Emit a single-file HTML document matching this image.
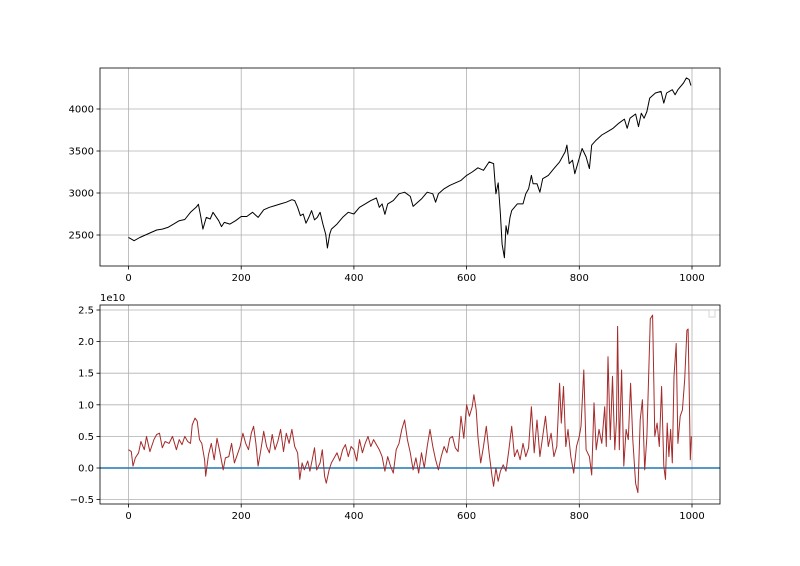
<!DOCTYPE html>
<html><head><meta charset="utf-8"><style>
html,body{margin:0;padding:0;background:#fff;}
svg{display:block;font-family:"DejaVu Sans","Liberation Sans",sans-serif;}
</style></head><body>
<svg id="chart" width="800" height="566" viewBox="0 0 800 566" xmlns="http://www.w3.org/2000/svg">
<rect width="800" height="566" fill="#fff"/>
<g id="top"></g>
<g id="bot"></g>
</svg>
<script>
const xTicks = [0, 200, 400, 600, 800, 1000];
const topYTicks = [2500, 3000, 3500, 4000];
const botYTicks = [-0.5, 0.0, 0.5, 1.0, 1.5, 2.0, 2.5];
const botYLabels = ["−0.5", "0.0", "0.5", "1.0", "1.5", "2.0", "2.5"];
const priceIdx = [0,10,20,30,40,50,60,70,80,90,100,110,120,124,128,132,138,145,150,160,165,170,180,190,200,210,220,230,240,250,260,270,280,290,295,300,305,310,315,320,325,330,335,340,345,350,353,357,360,370,380,390,400,410,420,430,440,445,450,455,460,470,480,490,500,505,510,520,530,540,545,550,560,570,580,590,600,610,620,630,640,648,652,656,660,663,667,670,673,677,680,690,700,705,710,715,718,725,730,735,745,755,765,775,778,782,788,792,798,805,812,818,822,830,840,850,860,870,880,885,890,900,905,910,915,920,925,935,945,950,955,965,970,975,985,990,995,998];
const priceVal = [2472,2432,2470,2500,2530,2560,2570,2590,2630,2670,2685,2770,2830,2865,2730,2570,2710,2690,2770,2670,2600,2650,2630,2670,2720,2720,2770,2710,2800,2830,2850,2870,2890,2920,2910,2830,2730,2750,2640,2710,2790,2680,2710,2770,2630,2510,2345,2510,2570,2630,2710,2770,2750,2830,2870,2910,2940,2830,2870,2745,2870,2910,2990,3010,2960,2840,2870,2930,3010,2990,2890,2990,3050,3090,3120,3150,3210,3250,3300,3270,3370,3350,2990,3120,2750,2390,2230,2610,2510,2710,2790,2870,2870,2990,3050,3210,3110,3110,3010,3170,3210,3290,3370,3490,3570,3350,3390,3230,3370,3530,3430,3290,3570,3630,3690,3730,3770,3830,3880,3770,3890,3940,3790,3950,3890,3970,4130,4190,4210,4070,4190,4230,4170,4230,4310,4370,4350,4280];
const indIdx = [0,5,8,12,18,22,28,32,38,45,50,55,60,65,72,78,85,90,95,100,105,110,113,118,122,126,130,135,137,142,147,152,157,162,168,172,178,183,188,193,198,203,208,213,218,222,226,230,235,240,245,250,255,260,265,270,275,280,285,290,295,300,304,308,312,318,322,326,330,334,340,344,348,351,356,360,365,370,375,380,385,390,395,400,405,410,415,420,425,430,435,440,445,450,455,460,465,470,475,480,485,490,495,500,505,510,515,520,525,530,535,540,545,550,555,560,565,570,575,580,585,590,595,600,605,610,613,617,620,625,630,635,640,645,648,652,656,660,665,670,675,680,685,690,695,700,705,710,715,720,725,730,735,740,745,750,755,760,765,768,772,776,780,785,790,795,800,803,808,812,818,822,826,830,835,840,845,848,851,855,859,863,866,868,871,875,879,883,887,891,895,900,904,908,912,916,920,926,930,934,938,942,946,950,953,956,959,962,965,968,972,975,979,983,987,991,993,995,997,999];
const indVal = [0.29,0.26,0.03,0.16,0.24,0.42,0.29,0.5,0.26,0.45,0.53,0.55,0.32,0.42,0.39,0.5,0.29,0.45,0.37,0.5,0.42,0.39,0.68,0.79,0.74,0.45,0.39,0.13,-0.13,0.21,0.39,0.13,0.47,0.26,-0.03,0.16,0.18,0.39,0.08,0.21,0.34,0.55,0.39,0.29,0.55,0.66,0.39,0.03,0.29,0.58,0.34,0.24,0.53,0.29,0.42,0.61,0.26,0.55,0.39,0.61,0.34,0.24,-0.18,0.08,-0.03,0.11,-0.05,0.13,0.32,-0.03,0.08,0.29,-0.13,-0.24,-0.03,0.08,0.16,0.24,0.11,0.29,0.37,0.18,0.34,0.29,0.11,0.45,0.24,0.39,0.5,0.34,0.45,0.37,0.29,0.18,-0.05,0.18,0.03,-0.08,0.29,0.39,0.61,0.76,0.45,0.24,-0.03,0.16,-0.08,0.24,0,0.34,0.61,0.34,0.13,-0.03,0.18,0.34,0.24,0.47,0.5,0.32,0.26,0.82,0.47,1.0,0.82,0.97,1.16,0.92,0.5,0.08,0.34,0.66,0.24,-0.13,-0.29,0,-0.21,-0.05,0.05,-0.05,0.29,0.66,0.18,0.29,0.13,0.39,0.18,0.32,0.97,0.24,0.76,0.18,0.5,0.82,0.34,0.55,0.18,0.34,1.34,0.71,1.29,0.34,0.61,0.18,-0.08,0.34,0.5,0.66,1.55,0.29,0.18,-0.11,1.03,0.29,0.61,0.39,0.97,0.34,1.76,0.45,1.45,0.29,0.76,2.24,0.29,1.55,0.03,0.61,0.45,1.34,0.45,-0.24,-0.39,0.76,1.08,-0.03,0.5,2.36,2.42,0.5,0.71,0.34,1.29,0.03,-0.18,0.71,0.18,0.61,0.08,1.45,1.97,0.39,0.82,0.92,1.4,2.18,2.2,1.24,0.13,0.5];

const NS = "http://www.w3.org/2000/svg";
function mk(parent, tag, attrs) {
  const e = document.createElementNS(NS, tag);
  for (const k in attrs) e.setAttribute(k, attrs[k]);
  parent.appendChild(e);
  return e;
}
const L = 100, R = 720;
const xs = v => 128.5 + v * 0.5635;
const ysTop = v => 109 + (4000 - v) * 0.084;
const ysBot = v => 468 - v * 63.2;

function panel(g, top, bottom, ys, yTicks, yLabels) {
  // grid
  xTicks.forEach(t => {
    const ln = mk(g, 'line', {x1: xs(t), x2: xs(t), y1: top, y2: bottom, stroke: '#b0b0b0', 'stroke-width': 0.8});
    
    
    const tk = mk(g, 'line', {x1: xs(t), x2: xs(t), y1: bottom, y2: bottom + 3.5, stroke: '#000', 'stroke-width': 0.8});
    
    
    const tx = mk(g, 'text', {x: xs(t), y: bottom + 15, 'text-anchor': 'middle', 'font-size': 10, fill: '#000'});
    tx.textContent = t;
    
    
  });
  yTicks.forEach((t, i) => {
    const ln = mk(g, 'line', {x1: L, x2: R, y1: ys(t), y2: ys(t), stroke: '#b0b0b0', 'stroke-width': 0.8});
    
    
    const tk = mk(g, 'line', {x1: L - 3.5, x2: L, y1: ys(t), y2: ys(t), stroke: '#000', 'stroke-width': 0.8});
    
    
    const tx = mk(g, 'text', {x: L - 6, y: ys(t) + 3.5, 'text-anchor': 'end', 'font-size': 10, fill: '#000'});
    tx.textContent = yLabels ? yLabels[i] : t;
    
    
  });
}
const gTop = document.getElementById('top');
const gBot = document.getElementById('bot');
panel(gTop, 68, 266, ysTop, topYTicks, null);
panel(gBot, 305, 504, ysBot, botYTicks, botYLabels);

const p1 = mk(gTop, 'polyline', {points: priceIdx.map((x, i) => xs(x).toFixed(1) + ',' + ysTop(priceVal[i]).toFixed(1)).join(' '), fill: 'none', stroke: '#000', 'stroke-width': 1, 'stroke-linejoin': 'round'});



const zl = mk(gBot, 'line', {x1: L, x2: R, y1: ysBot(0), y2: ysBot(0), stroke: '#1f77b4', 'stroke-width': 1.5});


const p2 = mk(gBot, 'polyline', {points: indIdx.map((x, i) => xs(x).toFixed(1) + ',' + ysBot(indVal[i]).toFixed(1)).join(' '), fill: 'none', stroke: '#a52a2a', 'stroke-width': 1, 'stroke-linejoin': 'round'});



const f1 = mk(gTop, 'rect', {x: L, y: 68, width: R - L, height: 198, fill: 'none', stroke: '#000', 'stroke-width': 0.8});


const f2 = mk(gBot, 'rect', {x: L, y: 305, width: R - L, height: 199, fill: 'none', stroke: '#000', 'stroke-width': 0.8});


const off = mk(gBot, 'text', {x: L, y: 301, 'font-size': 10, fill: '#000'});
off.textContent = '1e10';


const lg = mk(gBot, 'rect', {x: 709, y: 310, width: 6, height: 7, fill: '#fff', stroke: '#ccc', 'stroke-width': 0.8});


</script>
</body></html>
